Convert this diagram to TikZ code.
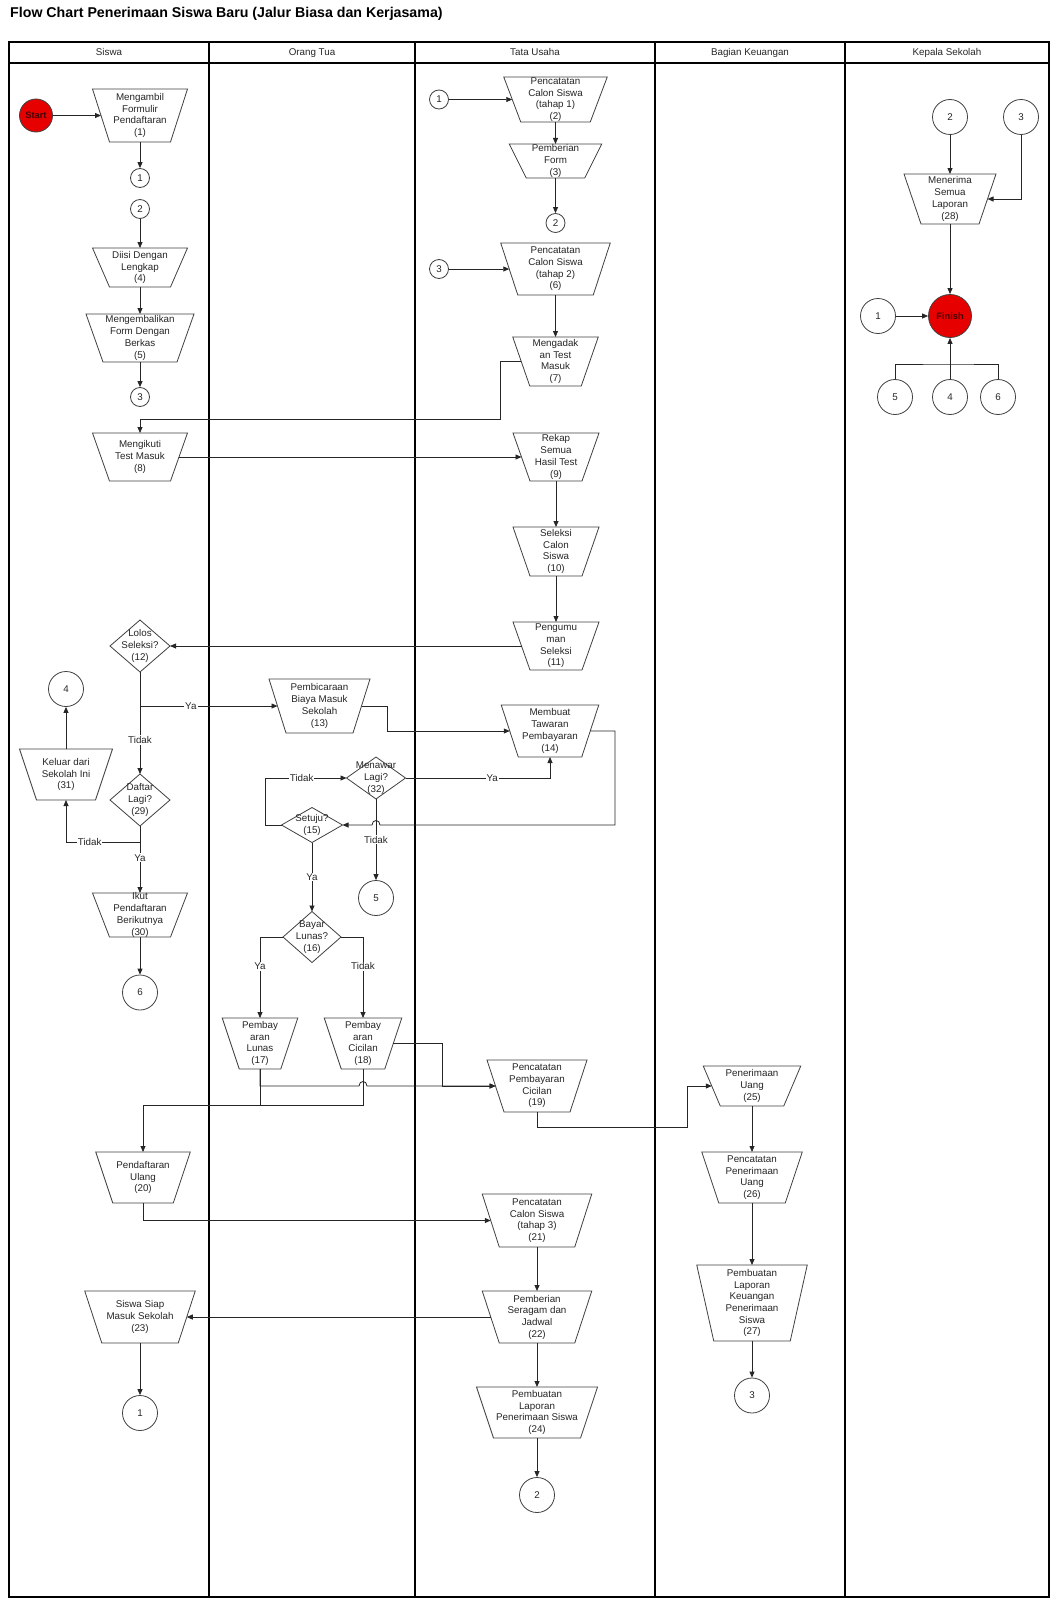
\documentclass[tikz,border=0pt]{standalone}
\usepackage{fontspec}
\setmainfont{Liberation Sans}
\usetikzlibrary{calc,arrows.meta}
\newcommand\nfnt{\fontsize{9.8}{11.7}\selectfont}
\newcommand\pbox[6]{%
  \node[boxanchor, minimum width=#4, minimum height=#5] (#1) at (#2,#3) {};
  \draw[shapeline] ($(#1.north west)+(-8.5,0)$) -- ($(#1.north east)+(8.5,0)$) -- ($(#1.south east)+(-8.5,0)$) -- ($(#1.south west)+(8.5,0)$) -- cycle;
  \node[txt] (#1-t) at (#1.center) {#6};
}
\newcommand\dbox[6]{%
  \node[boxanchor, minimum width=#4, minimum height=#5] (#1) at (#2,#3) {};
  \draw[shapeline] (#1.north) -- (#1.east) -- (#1.south) -- (#1.west) -- cycle;
  \node[txt] (#1-t) at (#1.center) {#6};
}
\definecolor{startred}{RGB}{230,0,0}
\definecolor{darkred}{RGB}{70,0,0}
\tikzset{
 lane/.style={line width=2pt, draw=black},
 boxanchor/.style={inner sep=0pt, outer sep=0pt, draw=none, rectangle},
 shapeline/.style={draw=black!75, line width=0.8pt, fill=white},
 txt/.style={font=\nfnt, align=center, inner sep=0pt, text=black!85},
 hdr/.style={font=\nfnt, inner sep=0pt, anchor=base, text=black!85},
 conn/.style={circle, draw=black!75, line width=0.8pt, inner sep=0pt, font=\nfnt, fill=white, text=black!85},
 sconn/.style={conn, minimum size=19pt},
 lconn/.style={conn, minimum size=35pt},
 redc/.style={circle, draw=black!75, line width=0.8pt, fill=startred, inner sep=0pt, font=\fontsize{9.3}{11}\selectfont\bfseries, text=darkred},
 arr/.style={draw=black!85, line width=0.8pt, -{Triangle[length=6pt,width=5pt]}},
 ln/.style={draw=black!85, line width=0.8pt},
 lbl/.style={font=\nfnt, fill=white, inner sep=1pt, text=black!85},
}
\begin{document}
\begin{tikzpicture}[x=1pt,y=-1pt]
\useasboundingbox (0,0) rectangle (1052,1600);
\node[anchor=base west, font=\fontsize{14.2}{17}\selectfont\bfseries, inner sep=0pt] (title) at (10,17.5) {Flow Chart Penerimaan Siswa Baru (Jalur Biasa dan Kerjasama)};
% lanes
\draw[lane] (9,42) rectangle (1049,1597);
\draw[lane] (9,63) -- (1049,63);
\foreach \xx in {209,415,655,845} \draw[lane] (\xx,42) -- (\xx,1597);
\node[hdr] (h1) at (109,56) {Siswa};
\node[hdr] (h2) at (312,56) {Orang Tua};
\node[hdr] (h3) at (535,56) {Tata Usaha};
\node[hdr] (h4) at (750,56) {Bagian Keuangan};
\node[hdr] (h5) at (947,56) {Kepala Sekolah};
% Siswa lane
\node[redc, minimum size=33pt] (start) at (36,115.5) {Start};
\pbox{n1}{140}{115.5}{78}{53}{Mengambil\\Formulir\\Pendaftaran\\(1)}
\node[sconn] (c1s) at (140,178) {1};
\node[sconn] (c2s) at (140,209) {2};
\pbox{n4}{140}{267.5}{78}{39}{Diisi Dengan\\Lengkap\\(4)}
\pbox{n5}{140}{338}{91}{48}{Mengembalikan\\Form Dengan\\Berkas\\(5)}
\node[sconn] (c3s) at (140,397) {3};
\pbox{n8}{140}{457}{78}{48}{Mengikuti\\Test Masuk\\(8)}
\dbox{d12}{140}{646}{60}{52}{Lolos\\Seleksi?\\(12)}
\node[lconn] (c4a) at (66,689) {4};
\pbox{n31}{66}{774.5}{76}{51}{Keluar dari\\Sekolah Ini\\(31)}
\dbox{d29}{140}{800}{60}{52}{Daftar\\Lagi?\\(29)}
\pbox{n30}{140}{915}{78}{44}{Ikut\\Pendaftaran\\Berikutnya\\(30)}
\node[lconn] (c6a) at (140,992.5) {6};
\pbox{n20}{143}{1177.5}{77.5}{51}{Pendaftaran\\Ulang\\(20)}
\pbox{n23}{140}{1317}{93.5}{52}{Siswa Siap\\Masuk Sekolah\\(23)}
\node[lconn] (c1b) at (140,1413) {1};
% Orang Tua lane
\pbox{n13}{319.5}{706}{84}{54}{Pembicaraan\\Biaya Masuk\\Sekolah\\(13)}
\dbox{d32}{376}{778}{59}{42}{Menawar\\Lagi?\\(32)}
\dbox{d15}{312}{825}{61}{35}{Setuju?\\(15)}
\node[lconn] (c5a) at (376,898) {5};
\dbox{d16}{312}{937}{58}{51}{Bayar\\Lunas?\\(16)}
\pbox{n17}{260}{1043.5}{58.5}{51}{Pembay\\aran\\Lunas\\(17)}
\pbox{n18}{363}{1043.5}{60.5}{51}{Pembay\\aran\\Cicilan\\(18)}
% Tata Usaha lane
\node[sconn] (c1t) at (439,99.5) {1};
\pbox{n2}{555.5}{99.5}{86.5}{45}{Pencatatan\\Calon Siswa\\(tahap 1)\\(2)}
\pbox{n3}{555.5}{161}{75.5}{34}{Pemberian\\Form\\(3)}
\node[sconn] (c2t) at (555.5,223) {2};
\node[sconn] (c3t) at (439,269) {3};
\pbox{n6}{555.5}{269}{92.5}{52}{Pencatatan\\Calon Siswa\\(tahap 2)\\(6)}
\pbox{n7}{555.5}{361.5}{68.5}{49}{Mengadak\\an Test\\Masuk\\(7)}
\pbox{n9}{556}{457}{69}{48}{Rekap\\Semua\\Hasil Test\\(9)}
\pbox{n10}{556}{551.5}{69}{49}{Seleksi\\Calon\\Siswa\\(10)}
\pbox{n11}{556}{646}{69}{48}{Pengumu\\man\\Seleksi\\(11)}
\pbox{n14}{550}{731}{80.5}{52}{Membuat\\Tawaran\\Pembayaran\\(14)}
\pbox{n19}{537}{1086}{83}{52}{Pencatatan\\Pembayaran\\Cicilan\\(19)}
\pbox{n21}{537}{1220.5}{92.5}{53}{Pencatatan\\Calon Siswa\\(tahap 3)\\(21)}
\pbox{n22}{537}{1317}{92.5}{52}{Pemberian\\Seragam dan\\Jadwal\\(22)}
\pbox{n24}{537}{1412.5}{104}{51}{Pembuatan\\Laporan\\Penerimaan Siswa\\(24)}
\node[lconn] (c2b) at (537,1495) {2};
% Bagian Keuangan lane
\pbox{n25}{752}{1086}{80.5}{40}{Penerimaan\\Uang\\(25)}
\pbox{n26}{752}{1177.5}{83.5}{51}{Pencatatan\\Penerimaan\\Uang\\(26)}
\pbox{n27}{752}{1303}{93.5}{76}{Pembuatan\\Laporan\\Keuangan\\Penerimaan\\Siswa\\(27)}
\node[lconn] (c3b) at (752,1395.5) {3};
% Kepala Sekolah lane
\node[lconn] (k2) at (950,117) {2};
\node[lconn] (k3) at (1021,117) {3};
\pbox{n28}{950}{199}{75}{50}{Menerima\\Semua\\Laporan\\(28)}
\node[redc, minimum size=43pt] (fin) at (950,316) {Finish};
\node[lconn] (k1) at (878,316) {1};
\node[lconn] (k5) at (895,397) {5};
\node[lconn] (k4) at (950,397) {4};
\node[lconn] (k6) at (998,397) {6};
% connectors
\draw[arr] (start.east) -- (n1.west);
\draw[arr] (n1.south) -- (c1s.north);
\draw[arr] (c2s.south) -- (n4.north);
\draw[arr] (n4.south) -- (n5.north);
\draw[arr] (n5.south) -- (c3s.north);
\draw[arr] (c1t.east) -- (n2.west);
\draw[arr] (n2.south) -- (n3.north);
\draw[arr] (n3.south) -- (c2t.north);
\draw[arr] (c3t.east) -- (n6.west);
\draw[arr] (n6.south) -- (n7.north);
\draw[arr] (n7.west) -| (500,419) -| (n8.north);
\draw[arr] (n8.east) -- (n9.west);
\draw[arr] (n9.south) -- (n10.north);
\draw[arr] (n10.south) -- (n11.north);
\draw[arr] (n11.west) -- (d12.east);
\coordinate (j12) at (140,706);
\draw[ln] (d12.south) -- (j12);
\draw[arr] (j12) -- node[lbl,pos=0.37]{Ya} (n13.west);
\draw[arr] (j12) -- node[lbl]{Tidak} (d29.north);
\coordinate (j29) at (140,842);
\draw[ln] (d29.south) -- (j29);
\draw[arr] (j29) -| node[lbl,pos=0.34]{Tidak} (n31.south);
\draw[arr] (j29) -- node[lbl,pos=0.31]{Ya} (n30.north);
\draw[arr] (n31.north) -- (c4a.south);
\draw[arr] (n30.south) -- (c6a.north);
\draw[arr] (n13.east) -| (387,731) -- (n14.west);
\draw[arr] (n14.east) -| (615,825) -- (380,825) .. controls (380,819) and (372,819) .. (372,825) -- (d15.east);
\draw[arr] (d32.east) -| node[lbl,pos=0.3]{Ya} (n14.south);
\draw[arr] (d15.west) -- (265,825) |- node[lbl,pos=0.725]{Tidak} (d32.west);
\draw[arr] (d32.south) -- node[lbl]{Tidak} (c5a.north);
\draw[arr] (d15.south) -- node[lbl]{Ya} (d16.north);
\draw[arr] (d16.west) -| node[lbl,pos=0.68]{Ya} (n17.north);
\draw[arr] (d16.east) -| node[lbl,pos=0.68]{Tidak} (n18.north);
\draw[arr] (n18.east) -| (442,1086) -- (n19.west);
\draw[arr] (n17.south) |- (359,1086) .. controls (359,1080) and (367,1080) .. (367,1086) -- (n19.west);
\draw[arr] (n17.south) -- (260,1105) -| (n20.north);
\draw[ln] (n18.south) |- (260,1105);
\draw[arr] (n19.south) |- (687,1127) |- (n25.west);
\draw[arr] (n25.south) -- (n26.north);
\draw[arr] (n26.south) -- (n27.north);
\draw[arr] (n27.south) -- (c3b.north);
\draw[arr] (n20.south) |- (n21.west);
\draw[arr] (n21.south) -- (n22.north);
\draw[arr] (n22.west) -- (n23.east);
\draw[arr] (n22.south) -- (n24.north);
\draw[arr] (n24.south) -- (c2b.north);
\draw[arr] (n23.south) -- (c1b.north);
\draw[arr] (k2.south) -- (n28.north);
\draw[arr] (k3.south) |- (n28.east);
\draw[arr] (n28.south) -- (fin.north);
\draw[arr] (k1.east) -- (fin.west);
\draw[ln] (k5.north) |- (950,364) -| (k6.north);
\draw[arr] (k4.north) -- (fin.south);
\end{tikzpicture}
\end{document}
